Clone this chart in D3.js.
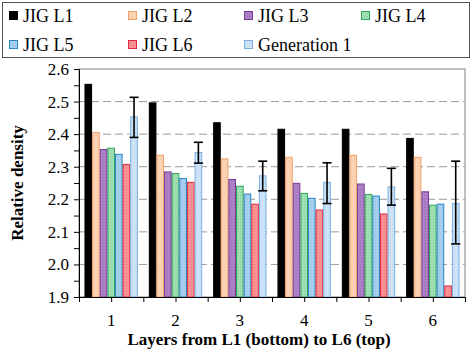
<!DOCTYPE html>
<html>
<head>
<meta charset="utf-8">
<script src="https://cdn.jsdelivr.net/npm/d3@7"></script>
<style>
  body { margin: 0; background: #fff; }
  text { font-family: "Liberation Serif", "Times New Roman", serif; }
</style>
</head>
<body>
<script>
const w = 474;
const h = 354;

// data
const layers = ["1", "2", "3", "4", "5", "6"];
const seriesNames = ["JIG L1", "JIG L2", "JIG L3", "JIG L4", "JIG L5", "JIG L6", "Generation 1"];
const jigL1 = [2.553, 2.496, 2.435, 2.415, 2.415, 2.387];
const jigL2 = [2.405, 2.335, 2.324, 2.329, 2.335, 2.329];
const jigL3 = [2.353, 2.284, 2.261, 2.249, 2.247, 2.223];
const jigL4 = [2.357, 2.279, 2.240, 2.218, 2.215, 2.182];
const jigL5 = [2.338, 2.264, 2.216, 2.203, 2.210, 2.185];
const jigL6 = [2.307, 2.252, 2.185, 2.167, 2.155, 1.934];
const gen1 = [2.453, 2.344, 2.272, 2.252, 2.238, 2.187];
const gen1Hi = [2.513, 2.375, 2.317, 2.312, 2.295, 2.317];
const gen1Lo = [2.390, 2.311, 2.226, 2.187, 2.182, 2.063];
const yTicks = [1.9, 2.0, 2.1, 2.2, 2.3, 2.4, 2.5, 2.6];

const allSeries = [jigL1, jigL2, jigL3, jigL4, jigL5, jigL6, gen1];

// fill, stroke, dot colour per series
const styles = [
  { fill: "#000000", stroke: "#000000", dot: "#000000" },
  { fill: "#fdd8bb", stroke: "#f0a068", dot: "#f6bb90" },
  { fill: "#b38acb", stroke: "#7a3a9a", dot: "#8f58ae" },
  { fill: "#a8e4ba", stroke: "#2fa45e", dot: "#6cc88a" },
  { fill: "#b2d6f2", stroke: "#2a86c2", dot: "#74b0de" },
  { fill: "#fa9c9c", stroke: "#e2283c", dot: "#f06470" },
  { fill: "#d6e8f9", stroke: "#7aaee2", dot: "#a8caee" }
];

const margin = { left: 79, right: 9, top: 69, bottom: 57 };

const svg = d3.select("body")
  .append("svg")
  .attr("width", w)
  .attr("height", h);

// dotted textures like the original
const defs = svg.append("defs");
styles.forEach((s, i) => {
  const p = defs.append("pattern")
    .attr("id", "pat" + i)
    .attr("width", 3)
    .attr("height", 3)
    .attr("patternUnits", "userSpaceOnUse");
  p.append("rect").attr("width", 3).attr("height", 3).attr("fill", s.fill);
  p.append("rect").attr("width", 1).attr("height", 1).attr("fill", s.dot);
  p.append("rect").attr("x", 1.5).attr("y", 1.5).attr("width", 1).attr("height", 1).attr("fill", s.dot);
});

const xScale = d3.scaleBand()
  .domain(layers)
  .range([margin.left, w - margin.right])
  .paddingInner(0.17)
  .paddingOuter(0.085);

const xInner = d3.scaleBand()
  .domain(d3.range(seriesNames.length))
  .range([0, xScale.bandwidth()]);

const yScale = d3.scaleLinear()
  .domain([1.9, 2.6])
  .range([h - margin.bottom, margin.top]);

// frame
svg.append("rect")
  .attr("x", margin.left)
  .attr("y", margin.top)
  .attr("width", w - margin.left - margin.right)
  .attr("height", h - margin.top - margin.bottom)
  .attr("fill", "none")
  .attr("stroke", "#808080")
  .attr("stroke-width", 1);

// dashed grid
svg.append("g")
  .selectAll("line")
  .data(yTicks.filter(d => d > 1.95 && d < 2.55))
  .enter()
  .append("line")
    .attr("x1", margin.left)
    .attr("x2", w - margin.right)
    .attr("y1", d => yScale(d))
    .attr("y2", d => yScale(d))
    .attr("stroke", "#9a9a9a")
    .attr("stroke-dasharray", "8,4")
    .attr("stroke-width", 1);

// bars
const groups = svg.append("g")
  .selectAll("g")
  .data(layers)
  .enter()
  .append("g")
    .attr("transform", d => `translate(${xScale(d)}, 0)`);

groups.selectAll("rect")
  .data((d, gi) => allSeries.map((s, si) => ({ si: si, v: s[gi] })))
  .enter()
  .append("rect")
    .attr("x", d => xInner(d.si) + 0.5)
    .attr("y", d => yScale(d.v))
    .attr("width", xInner.bandwidth() - 1)
    .attr("height", d => yScale(1.9) - yScale(d.v))
    .attr("fill", d => "url(#pat" + d.si + ")")
    .attr("stroke", d => styles[d.si].stroke)
    .attr("stroke-width", 1);

// error bars on Generation 1
const errX = i => xScale(layers[i]) + xInner(6) + xInner.bandwidth() / 2;
const err = svg.append("g")
  .selectAll("g")
  .data(layers.map((d, i) => i))
  .enter()
  .append("g");
err.append("line")
  .attr("x1", errX).attr("x2", errX)
  .attr("y1", i => yScale(gen1Hi[i]))
  .attr("y2", i => yScale(gen1Lo[i]))
  .attr("stroke", "#000").attr("stroke-width", 1.6);
[gen1Hi, gen1Lo].forEach(arr => {
  err.append("line")
    .attr("x1", i => errX(i) - 4.5).attr("x2", i => errX(i) + 4.5)
    .attr("y1", i => yScale(arr[i]))
    .attr("y2", i => yScale(arr[i]))
    .attr("stroke", "#000").attr("stroke-width", 1.6);
});

// y axis with minor ticks
const yAxis = d3.axisLeft(yScale)
  .tickValues(d3.range(1.9, 2.6001, 0.05))
  .tickSize(5)
  .tickFormat(d => {
    const r = Math.round(d * 100);
    return r % 10 === 0 ? d3.format(".1f")(d) : "";
  });

svg.append("g")
  .attr("class", "y axis")
  .attr("transform", `translate(${margin.left}, 0)`)
  .call(yAxis)
  .call(g => g.select(".domain").attr("stroke", "#000"))
  .call(g => g.selectAll("text").attr("font-size", 17).attr("fill", "#000").attr("x", -10))
  .call(g => g.selectAll("line").attr("stroke", "#000"));

// x axis: ticks at group edges and centers
const xLin = d3.scaleLinear()
  .domain([0, layers.length])
  .range([margin.left, w - margin.right]);

const xAxis = d3.axisBottom(xLin)
  .tickValues(d3.range(0, layers.length + 0.01, 0.5))
  .tickSize(5)
  .tickFormat("");

svg.append("g")
  .attr("class", "x axis")
  .attr("transform", `translate(0, ${h - margin.bottom})`)
  .call(xAxis)
  .call(g => g.select(".domain").attr("stroke", "#000"))
  .call(g => g.selectAll("line").attr("stroke", "#000"));

svg.append("g")
  .selectAll("text")
  .data(layers)
  .enter()
  .append("text")
    .attr("x", d => xScale(d) + xScale.bandwidth() / 2)
    .attr("y", 326)
    .attr("text-anchor", "middle")
    .attr("font-size", 17)
    .text(d => d);

// axis titles
svg.append("text")
  .attr("x", (margin.left + w - margin.right) / 2 - 13)
  .attr("y", 345)
  .attr("text-anchor", "middle")
  .attr("font-size", 17)
  .attr("font-weight", "bold")
  .text("Layers from L1 (bottom) to L6 (top)");

svg.append("text")
  .attr("transform", `translate(23, ${(margin.top + h - margin.bottom) / 2}) rotate(-90)`)
  .attr("text-anchor", "middle")
  .attr("font-size", 17)
  .attr("font-weight", "bold")
  .text("Relative density");

// legend
svg.append("rect")
  .attr("x", 2.5)
  .attr("y", 2.5)
  .attr("width", 467)
  .attr("height", 55)
  .attr("fill", "#fff")
  .attr("stroke", "#555")
  .attr("stroke-width", 1);

const legendX = [9, 128, 244, 361];
const legendY = [22, 51];
const legend = svg.append("g")
  .selectAll("g")
  .data(seriesNames)
  .enter()
  .append("g")
    .attr("transform", (d, i) => `translate(${legendX[i % 4]}, ${legendY[Math.floor(i / 4)]})`);

legend.append("rect")
  .attr("x", 0.5)
  .attr("y", -10.5)
  .attr("width", 8)
  .attr("height", 8)
  .attr("fill", (d, i) => "url(#pat" + i + ")")
  .attr("stroke", (d, i) => styles[i].stroke);

legend.append("text")
  .attr("x", 14)
  .attr("y", 0)
  .attr("font-size", 18)
  .text(d => d);
</script>
</body>
</html>
